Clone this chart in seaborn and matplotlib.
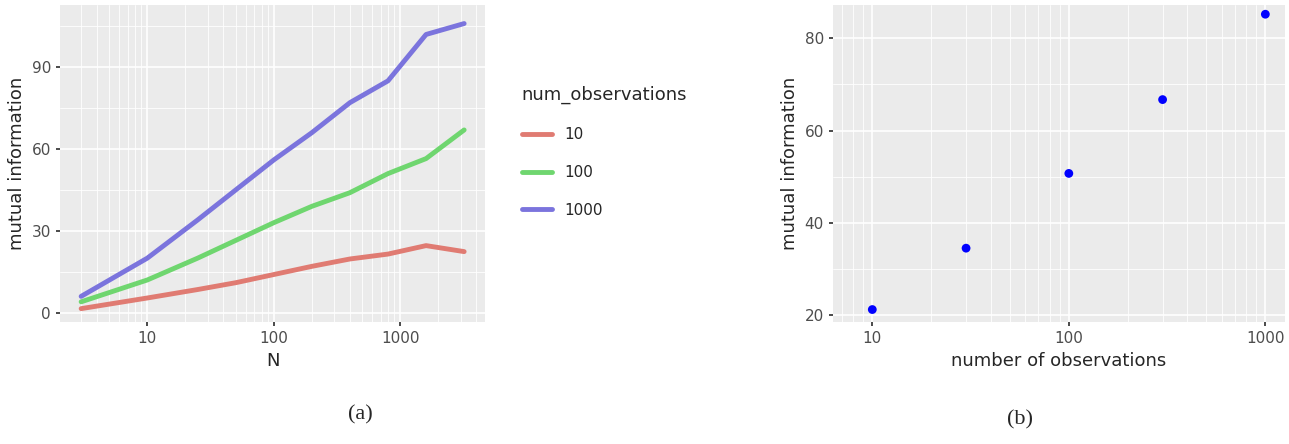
import matplotlib
matplotlib.use("Agg")
import matplotlib.pyplot as plt
import seaborn as sns
import pandas as pd
import numpy as np
from matplotlib.ticker import FixedLocator, LogLocator, NullFormatter

N = [3, 10, 25, 50, 100, 200, 400, 800, 1600, 3200]
mi_10 = [1.5, 5.4, 8.5, 11, 14, 17, 19.7, 21.5, 24.6, 22.4]
mi_100 = [4, 12, 20, 26.5, 33, 39, 44, 51, 56.5, 67]
mi_1000 = [6, 20, 34, 45, 56, 66, 77, 85, 102, 106]
obs = [10, 30, 100, 300, 1000]
mi_obs = [21.2, 34.5, 50.7, 66.7, 85.2]

df = pd.DataFrame({
    "N": N * 3,
    "mi": mi_10 + mi_100 + mi_1000,
    "num_observations": ["10"] * len(N) + ["100"] * len(N) + ["1000"] * len(N),
})
df2 = pd.DataFrame({"obs": obs, "mi": mi_obs})

sns.set_theme(style="darkgrid", rc={"axes.facecolor": "#EBEBEB", "grid.color": "white"})
plt.rcParams["font.family"] = ["DejaVu Sans"]

fig = plt.figure(figsize=(12.89, 4.44), dpi=100)
W, H = 1289, 444
ax1 = fig.add_axes([60 / W, 1 - 322 / H, 425 / W, 317 / H])
ax2 = fig.add_axes([833 / W, 1 - 322 / H, 452 / W, 317 / H])

pal = {"10": "#E07B72", "100": "#6FD66F", "1000": "#7B74DD"}
sns.lineplot(data=df, x="N", y="mi", hue="num_observations", palette=pal, lw=3.5, ax=ax1)
ax1.set_xscale("log")
ax1.set_xlim(10 ** 0.31, 10 ** 3.67)
ax1.set_ylim(-3.4, 112.8)
ax1.set_yticks([0, 30, 60, 90])
ax1.set_xticks([10, 100, 1000])
ax1.set_xticklabels(["10", "100", "1000"])
ax1.set_xlabel("N", fontsize=13)
ax1.set_ylabel("mutual information", fontsize=13)
ax1.yaxis.set_minor_locator(FixedLocator([15, 45, 75, 105]))

sns.scatterplot(data=df2, x="obs", y="mi", color="#0000FF", s=40, edgecolor="none", ax=ax2)
ax2.set_xscale("log")
ax2.set_xlim(10 ** 0.8, 10 ** 3.1)
ax2.set_ylim(18.5, 87.2)
ax2.set_yticks([20, 40, 60, 80])
ax2.set_xticks([10, 100, 1000])
ax2.set_xticklabels(["10", "100", "1000"])
ax2.set_xlabel("number of observations", fontsize=13)
ax2.set_ylabel("mutual information", fontsize=13)
ax2.yaxis.set_minor_locator(FixedLocator([30, 50, 70]))

for ax in (ax1, ax2):
    ax.xaxis.set_minor_locator(LogLocator(base=10, subs=np.arange(2, 10)))
    ax.xaxis.set_minor_formatter(NullFormatter())
    ax.grid(True, which="major", color="white", lw=1.2)
    ax.grid(True, which="minor", color="white", lw=0.6)
    ax.tick_params(axis="both", which="major", labelsize=11, labelcolor="#4D4D4D",
                   length=3, color="#333333", bottom=True, left=True)
    ax.tick_params(which="minor", length=0)
    for s in ax.spines.values():
        s.set_visible(False)

h, l = ax1.get_legend_handles_labels()
ax1.legend_.remove()
leg = fig.legend(h, l, title="num_observations", loc="upper left",
                 bbox_to_anchor=(508 / W, 1 - 72 / H), frameon=False,
                 fontsize=11, title_fontsize=13, handlelength=2, labelspacing=1.5)
leg._legend_box.align = "left"

fig.text(360 / W, 1 - 415 / H, "(a)", ha="center", va="center", fontsize=16, family="Liberation Serif")
fig.text(1020 / W, 1 - 420 / H, "(b)", ha="center", va="center", fontsize=16, family="Liberation Serif")

fig.savefig("out.png", dpi=100)
